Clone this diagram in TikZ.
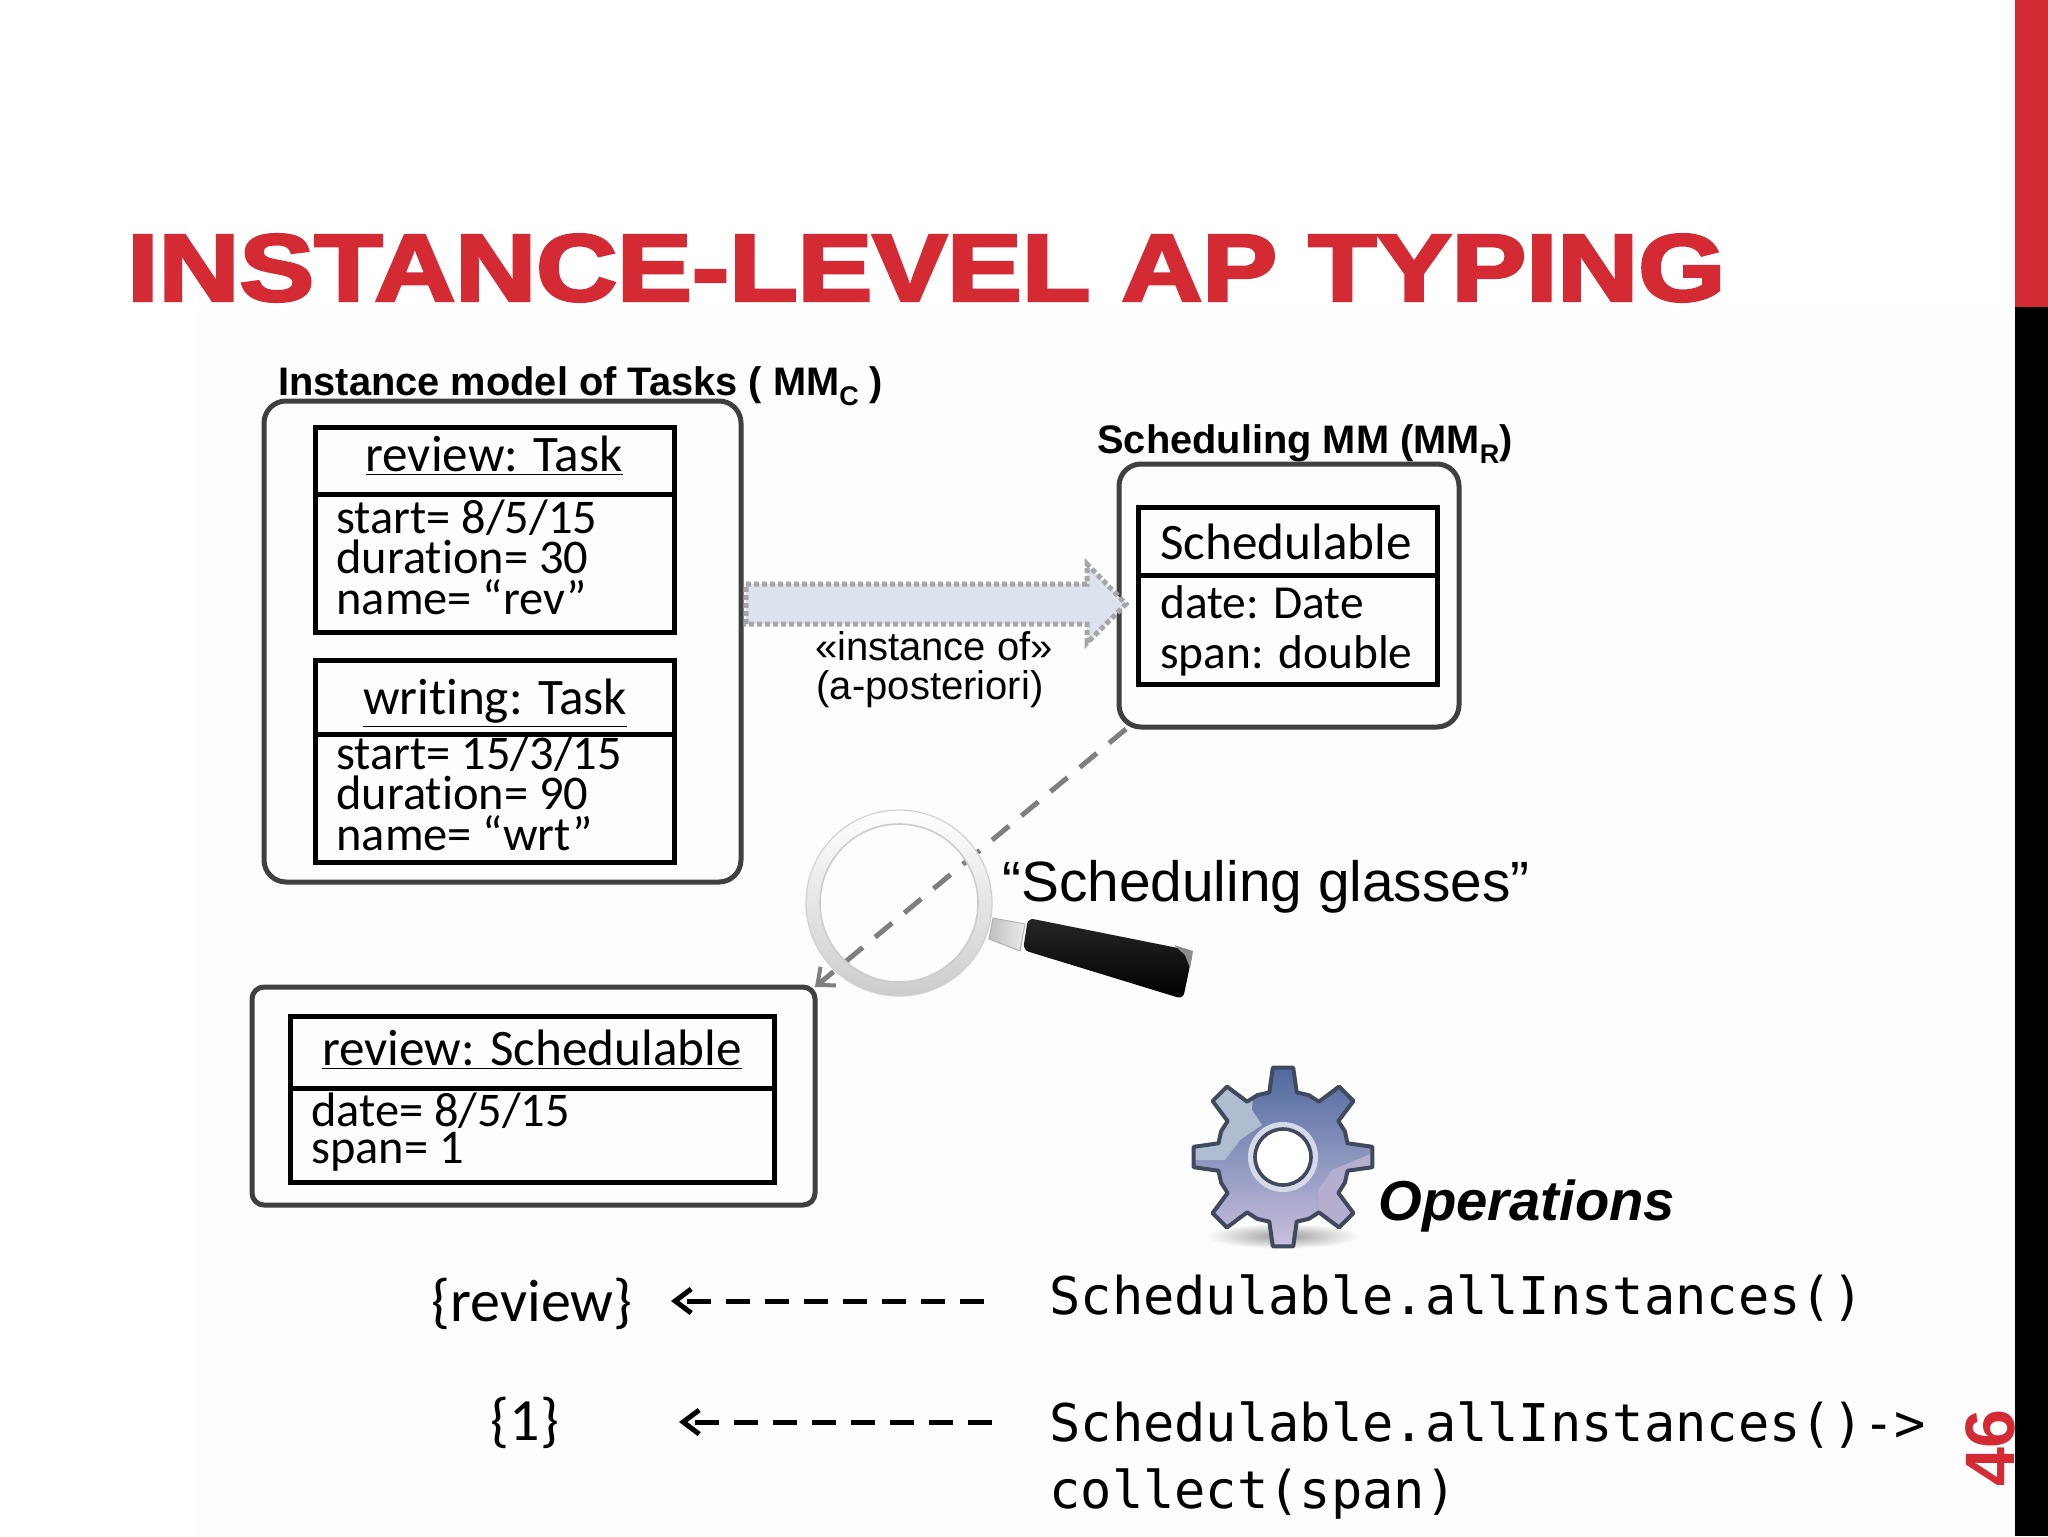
\documentclass[tikz,border=0pt]{standalone}
\usepackage{fontspec}
\usepackage{graphicx}
\usetikzlibrary{arrows.meta,shapes.arrows,shapes.geometric}
\setmainfont{Liberation Sans}
\newfontfamily\bodyf[Ligatures=NoCommon]{Carlito}
\newfontfamily\codef{DejaVu Sans Mono}
\newfontfamily\titlef[FakeBold=3]{Liberation Sans Bold}
\definecolor{slidered}{HTML}{D42A33}
\definecolor{frameg}{HTML}{404040}
\definecolor{arrowfill}{HTML}{DCE3EE}
\definecolor{arrowedge}{HTML}{A6A6A6}
\definecolor{linkg}{HTML}{7F7F7F}
\definecolor{HTMLa}{HTML}{4F6A9E}
\definecolor{HTMLb}{HTML}{C9C0DE}
\definecolor{HTMLc}{HTML}{B0BDD0}
\definecolor{HTMLd}{HTML}{B5AECF}
\definecolor{HTMLe}{HTML}{3F4A5E}
\definecolor{HTMLf}{HTML}{D5D9E8}
\definecolor{pagebg}{HTML}{FDFDFD}
\newcommand{\subs}[1]{\raisebox{-0.45ex}{\fontsize{13.5}{14}\selectfont #1}}
\tikzset{
  x=0.5pt,y=-0.5pt,
  outerbox/.style={draw=frameg,line width=2.5pt,rounded corners=11pt,inner sep=0pt,outer sep=0pt},
  classbox/.style={draw=black,line width=2.5pt,inner sep=0pt,outer sep=0pt},
  divider/.style={draw=black,line width=2.5pt},
  cname/.style={font=\bodyf\fontsize{25.6}{27}\selectfont,inner sep=0pt},
  attr/.style={font=\bodyf\fontsize{24.2}{26}\selectfont,anchor=west,inner sep=0pt},
  attrs/.style={font=\bodyf\fontsize{23.7}{26}\selectfont,anchor=west,inner sep=0pt},
  heading/.style={font=\bfseries\fontsize{19.9}{22}\selectfont,anchor=west,inner sep=0pt},
  arrowlabel/.style={font=\fontsize{20}{22}\selectfont,inner sep=0pt},
  codeline/.style={font=\codef\fontsize{26}{28}\selectfont,anchor=west,inner sep=0pt},
  result/.style={font=\bodyf\fontsize{30}{32}\selectfont,inner sep=0pt},
  resarrow/.style={line width=2.5pt,draw=black,dash pattern=on 12pt off 7.5pt,-{Straight Barb[length=8pt,width=12pt,line width=2.5pt]}},
}
\newcommand{\gearpath}{(1347.5,1143.3)
  \foreach \a in {0,45,...,315}{
    -- ({1283+66*cos(\a-12)},{1157+66*sin(\a-12)})
    -- ({1283+90*cos(\a-6.5)},{1157+90*sin(\a-6.5)})
    -- ({1283+90*cos(\a+6.5)},{1157+90*sin(\a+6.5)})
    -- ({1283+66*cos(\a+12)},{1157+66*sin(\a+12)})
    -- ({1283+67*cos(\a+22.5)},{1157+67*sin(\a+22.5)})
  } -- cycle}
\begin{document}
\begin{tikzpicture}
\useasboundingbox (0,0) rectangle (2048,1536);
\fill[white] (0,0) rectangle (2048,1536);
\fill[pagebg] (196,310) rectangle (2015,1536);
% side bar
\fill[slidered] (2015,0) rectangle (2048,307);
\fill[black] (2015,307) rectangle (2048,1536);
\node[rotate=90,text=slidered,font=\bfseries\fontsize{35}{36}\selectfont,inner sep=0pt] (pagenum) at (1990,1448) {46};
% title
\node[anchor=west,inner sep=0pt,text=slidered,font=\titlef\fontsize{47.5}{52}\selectfont] (title) at (127,268) {\resizebox{799pt}{\height}{INSTANCE-LEVEL AP TYPING}};
% headings
\node[heading] (headA) at (278,386) {Instance model of Tasks ( MM\subs{C} )};
\node[heading] (headB) at (1097,444) {Scheduling MM (MM\subs{R})};
% outer boxes
\node[outerbox,minimum width=238.5pt,minimum height=240.5pt] (outerA) at (502.5,641.5) {};
\node[outerbox,minimum width=170pt,minimum height=131.5pt] (outerB) at (1289,595.5) {};
\node[outerbox,rounded corners=6pt,minimum width=281.5pt,minimum height=109pt] (outerC) at (533.5,1096) {};
% class boxes
\node[classbox,minimum width=179.5pt,minimum height=102.5pt] (review) at (494.5,529.5) {};
\draw[divider] (review.west |- 0,494) -- (review.east |- 0,494);
\node[cname] (reviewT) at (494,456) {\underline{review: Task}};
\node[attr] (r1) at (336,518) {start= 8/5/15};
\node[attr] (r2) at (336,557) {duration= 30};
\node[attr] (r3) at (336,597) {name= “rev”};
\node[classbox,minimum width=179.5pt,minimum height=101pt] (writing) at (494.5,761) {};
\draw[divider] (writing.west |- 0,734) -- (writing.east |- 0,734);
\node[cname] (writingT) at (495,703) {\underline{writing: Task}};
\node[attr] (w1) at (336,754) {start= 15/3/15};
\node[attr] (w2) at (336,793) {duration= 90};
\node[attr] (w3) at (336,833) {name= “wrt”};
\node[classbox,minimum width=149.5pt,minimum height=88.5pt] (sched) at (1287.5,595.5) {};
\draw[divider] (sched.west |- 0,575) -- (sched.east |- 0,575);
\node[cname] (schedT) at (1286,542) {Schedulable};
\node[attrs] (s1) at (1160,602) {date: Date};
\node[attrs] (s2) at (1160,656) {span: double};
\node[classbox,minimum width=242pt,minimum height=83pt] (inst) at (532,1099) {};
\draw[divider] (inst.west |- 0,1088) -- (inst.east |- 0,1088);
\node[cname] (instT) at (532,1050) {\underline{review: Schedulable}};
\node[attr] (i1) at (311,1111) {date= 8/5/15};
\node[attr] (i2) at (311,1152) {span= 1};
% instance-of block arrow
\path[fill=arrowfill,draw=arrowedge,line width=2.5pt,dash pattern=on 2.5pt off 1.5pt]
  (746,584) -- (1087,584) -- (1087,564) -- (1126,604) -- (1087,643) -- (1087,624) -- (746,624) -- cycle;
\node[arrowlabel] (il1) at (934,646) {«instance of»};
\node[arrowlabel] (il2) at (930,689) {(a-posteriori)};
% dashed typing link
\draw[draw=linkg,line width=2.5pt,dash pattern=on 11pt off 8pt,-{Straight Barb[length=7pt,width=12pt,line width=2pt]}]
  ([shift={(7,2)}]outerB.south west) -- (outerC.north east);
% magnifier
\path[top color=white,bottom color=black!20,even odd rule]
  (899,903) circle[radius=93] (899,903) circle[radius=79];
\draw[black!18,line width=0.6pt] (899,903) circle[radius=93];
\draw[black!20,line width=0.8pt] (899,903) circle[radius=79];
\path[left color=black!25,right color=black!8,draw=black!30,line width=0.5pt]
  (993,918) -- (1025,924) -- (1020,951) -- (989,939) -- cycle;
\path[top color=black!85,bottom color=black,rounded corners=3pt]
  (1028,918) -- (1193,951) -- (1183,999) -- (1023,950) -- cycle;
\fill[black!45] (1174,945) -- (1193,951) -- (1190,968) -- (1185,955) -- cycle;
% gear
\shade[inner color=black!40,outer color=white] (1283,1236) ellipse[x radius=78,y radius=13];
\path[top color=HTMLa,bottom color=HTMLb] \gearpath;
\begin{scope}
  \clip \gearpath;
  \fill[HTMLc] (1190,1060) -- (1255,1060) -- (1252,1110) -- (1262,1125) -- (1240,1140) -- (1225,1160) -- (1190,1160) -- cycle;
  \fill[HTMLd] (1330,1250) -- (1320,1215) -- (1318,1190) -- (1332,1170) -- (1380,1150) -- (1380,1250) -- cycle;
\end{scope}
\draw[draw=HTMLe,line width=2pt,line join=round] \gearpath;
\fill[HTMLf] (1283,1157) circle[radius=35];
\draw[fill=white,draw=HTMLe,line width=1.8pt] (1283,1157) circle[radius=28];
% text
\node[anchor=west,inner sep=0pt,font=\fontsize{28.4}{32}\selectfont] (glass) at (1002,887) {“Scheduling glasses”};
\node[anchor=west,inner sep=0pt,font=\bfseries\itshape\fontsize{28.1}{30}\selectfont] (ops) at (1378,1206) {Operations};
\node[result] (resA) at (532,1304) {\{review\}};
\node[result] (resB) at (525,1423) {\{1\}};
\node[codeline] (codeA) at (1049,1298) {Schedulable.allInstances()};
\node[codeline] (codeB) at (1049,1425) {Schedulable.allInstances()->};
\node[codeline] (codeC) at (1049,1494) {collect(span)};
\coordinate (arrA) at (671,1301);
\coordinate (arrAe) at (984,1301);
\coordinate (arrB) at (679,1422);
\coordinate (arrBe) at (992,1422);
\draw[resarrow] (arrAe) -- (arrA);
\draw[resarrow] (arrBe) -- (arrB);
\end{tikzpicture}
\end{document}
